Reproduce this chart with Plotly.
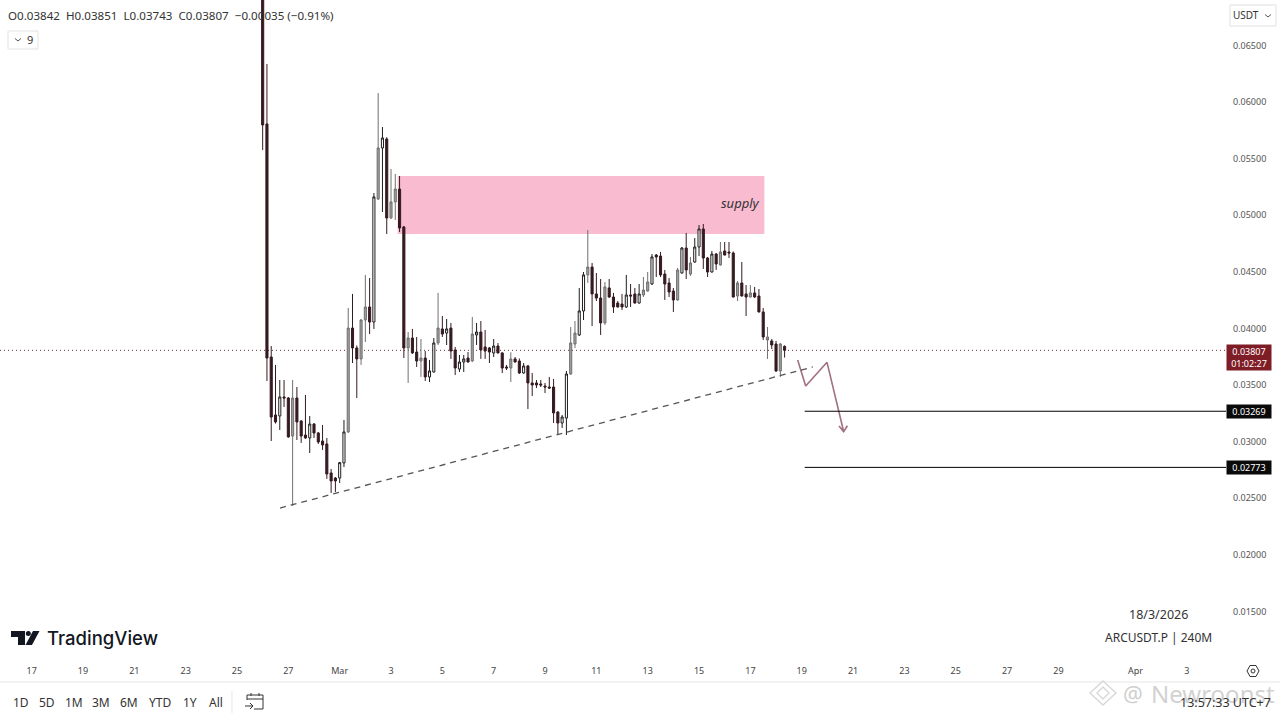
import pandas as pd
import plotly.graph_objects as go

# 4h candles, ARCUSDT.P, first bar 26 Feb 2026
bar_dates = pd.date_range("2026-02-26 00:00", periods=123, freq="4h")

opens = [0.07255, 0.05807, 0.03748, 0.03236, 0.03227, 0.03395, 0.03386, 0.03050, 0.03386, 0.03183,
         0.03059, 0.03033, 0.03156, 0.03077, 0.03006, 0.02980, 0.02724, 0.02679, 0.02679, 0.02812,
         0.03086, 0.04004, 0.03828, 0.03731, 0.04075, 0.04190, 0.04057, 0.05144, 0.05595, 0.05674,
         0.04976, 0.05118, 0.05232, 0.04897, 0.03828, 0.03916, 0.03792, 0.03713, 0.03739, 0.03572,
         0.03616, 0.03872, 0.03996, 0.03960, 0.04004, 0.03810, 0.03642, 0.03704, 0.03739, 0.03713,
         0.03943, 0.03969, 0.03837, 0.03828, 0.03784, 0.03845, 0.03784, 0.03660, 0.03651, 0.03731,
         0.03713, 0.03607, 0.03669, 0.03519, 0.03519, 0.03510, 0.03492, 0.03483, 0.03483, 0.03262,
         0.03165, 0.03209, 0.03598, 0.03863, 0.03943, 0.04155, 0.04473, 0.04543, 0.04305, 0.04269,
         0.04049, 0.04358, 0.04278, 0.04225, 0.04216, 0.04190, 0.04296, 0.04305, 0.04225, 0.04296,
         0.04331, 0.04393, 0.04649, 0.04640, 0.04481, 0.04402, 0.04331, 0.04252, 0.04490, 0.04711,
         0.04481, 0.04587, 0.04720, 0.04879, 0.04623, 0.04499, 0.04658, 0.04561, 0.04685, 0.04676,
         0.04667, 0.04287, 0.04402, 0.04305, 0.04278, 0.04314, 0.04287, 0.04146, 0.03925, 0.03890,
         0.03863, 0.03625, 0.03842]
highs = [0.07432, 0.06337, 0.03845, 0.03678, 0.03545, 0.03545, 0.03395, 0.03545, 0.03483, 0.03190,
         0.03413, 0.03227, 0.03165, 0.03086, 0.03148, 0.03033, 0.02759, 0.02688, 0.02821, 0.03192,
         0.04181, 0.04305, 0.03850, 0.04084, 0.04473, 0.04446, 0.05197, 0.06080, 0.05780, 0.05690,
         0.05409, 0.05365, 0.05347, 0.04906, 0.03969, 0.03996, 0.03925, 0.03907, 0.03801, 0.03722,
         0.03916, 0.04314, 0.04110, 0.04084, 0.04049, 0.03837, 0.03766, 0.03766, 0.03792, 0.04102,
         0.04049, 0.04066, 0.03987, 0.03837, 0.03907, 0.03872, 0.03790, 0.03678, 0.03790, 0.03748,
         0.03735, 0.03695, 0.03678, 0.03607, 0.03545, 0.03545, 0.03519, 0.03572, 0.03554, 0.03270,
         0.03236, 0.03625, 0.04013, 0.04066, 0.04358, 0.04499, 0.04870, 0.04579, 0.04490, 0.04437,
         0.04411, 0.04437, 0.04314, 0.04243, 0.04305, 0.04473, 0.04393, 0.04358, 0.04393, 0.04455,
         0.04499, 0.04658, 0.04658, 0.04676, 0.04517, 0.04446, 0.04358, 0.04535, 0.04720, 0.04844,
         0.04632, 0.04799, 0.04914, 0.04923, 0.04632, 0.04685, 0.04667, 0.04764, 0.04764, 0.04764,
         0.04680, 0.04420, 0.04587, 0.04384, 0.04384, 0.04367, 0.04349, 0.04181, 0.04013, 0.03907,
         0.03890, 0.03872, 0.03851]
lows = [0.05577, 0.03536, 0.03006, 0.03160, 0.03103, 0.03307, 0.03035, 0.02432, 0.03015, 0.02989,
        0.03025, 0.02900, 0.03033, 0.02980, 0.02927, 0.02671, 0.02547, 0.02556, 0.02635, 0.02776,
        0.03077, 0.03695, 0.03386, 0.03678, 0.03881, 0.03951, 0.03996, 0.05135, 0.05029, 0.04835,
        0.04970, 0.04959, 0.04853, 0.03739, 0.03519, 0.03775, 0.03660, 0.03572, 0.03536, 0.03527,
        0.03610, 0.03854, 0.03925, 0.03854, 0.03731, 0.03589, 0.03616, 0.03616, 0.03700, 0.03704,
        0.03854, 0.03731, 0.03731, 0.03695, 0.03748, 0.03780, 0.03607, 0.03633, 0.03527, 0.03700,
        0.03598, 0.03600, 0.03289, 0.03404, 0.03474, 0.03483, 0.03430, 0.03466, 0.03165, 0.03068,
        0.03121, 0.03059, 0.03590, 0.03828, 0.03934, 0.04075, 0.04402, 0.04022, 0.04243, 0.03943,
        0.04031, 0.04270, 0.04137, 0.04185, 0.04163, 0.04181, 0.04190, 0.04220, 0.04220, 0.04278,
        0.04325, 0.04384, 0.04455, 0.04455, 0.04252, 0.04278, 0.04146, 0.04245, 0.04485, 0.04437,
        0.04464, 0.04580, 0.04640, 0.04526, 0.04455, 0.04495, 0.04517, 0.04555, 0.04645, 0.04623,
        0.04275, 0.04243, 0.04283, 0.04110, 0.04275, 0.04269, 0.04142, 0.03898, 0.03731, 0.03819,
        0.03616, 0.03572, 0.03743]
closes = [0.05798, 0.03739, 0.03218, 0.03174, 0.03395, 0.03386, 0.03042, 0.03386, 0.03174, 0.03050,
          0.03033, 0.03156, 0.03077, 0.02997, 0.02971, 0.02715, 0.02653, 0.02653, 0.02815, 0.03086,
          0.04004, 0.03828, 0.03731, 0.04075, 0.04190, 0.04057, 0.05162, 0.05595, 0.05683, 0.04976,
          0.05118, 0.05232, 0.04888, 0.03828, 0.03916, 0.03784, 0.03713, 0.03739, 0.03572, 0.03625,
          0.03872, 0.04004, 0.03951, 0.03996, 0.03801, 0.03651, 0.03704, 0.03731, 0.03704, 0.03951,
          0.03969, 0.03810, 0.03801, 0.03792, 0.03845, 0.03784, 0.03651, 0.03651, 0.03731, 0.03704,
          0.03607, 0.03669, 0.03519, 0.03501, 0.03501, 0.03501, 0.03483, 0.03474, 0.03254, 0.03165,
          0.03218, 0.03598, 0.03872, 0.03960, 0.04155, 0.04473, 0.04543, 0.04305, 0.04269, 0.04049,
          0.04367, 0.04278, 0.04190, 0.04190, 0.04190, 0.04296, 0.04287, 0.04225, 0.04305, 0.04340,
          0.04411, 0.04632, 0.04632, 0.04473, 0.04393, 0.04322, 0.04252, 0.04517, 0.04711, 0.04517,
          0.04579, 0.04720, 0.04879, 0.04623, 0.04499, 0.04658, 0.04570, 0.04676, 0.04649, 0.04667,
          0.04278, 0.04402, 0.04287, 0.04278, 0.04314, 0.04278, 0.04146, 0.03925, 0.03898, 0.03854,
          0.03625, 0.03863, 0.03807]

# bars that come out washed out in the screenshot
grey_bars = [7, 20, 23, 24, 27, 30, 31, 34, 37, 41, 49, 58, 72, 73, 76, 80, 89, 90, 97, 100, 107, 111, 114, 118, 121]

price_ticks = [0.015, 0.02, 0.025, 0.03, 0.035, 0.04, 0.045, 0.05, 0.055, 0.06, 0.065]
date_ticks = ["2026-02-17", "2026-02-19", "2026-02-21", "2026-02-23", "2026-02-25", "2026-02-27",
              "2026-03-01", "2026-03-03", "2026-03-05", "2026-03-07", "2026-03-09", "2026-03-11",
              "2026-03-13", "2026-03-15", "2026-03-17", "2026-03-19", "2026-03-21", "2026-03-23",
              "2026-03-25", "2026-03-27", "2026-03-29", "2026-04-01", "2026-04-03"]
date_labels = ["17", "19", "21", "23", "25", "27", "Mar", "3", "5", "7", "9", "11", "13", "15",
               "17", "19", "21", "23", "25", "27", "29", "Apr", "3"]

last_price = 0.03807
target_1 = 0.03269
target_2 = 0.02773
supply_top = 0.05347
supply_bottom = 0.04835
supply_start = "2026-03-03 06:13"
supply_end = "2026-03-17 13:05"
trend_dates = ["2026-02-26 16:12", "2026-03-19 10:17"]
trend_prices = [0.02414, 0.03660]
level_start = "2026-03-19 02:48"
axis_start = "2026-02-15 18:24"
axis_end = "2026-04-04 12:43"
arrow_dates = ["2026-03-18 20:14", "2026-03-19 03:44", "2026-03-19 23:40", "2026-03-20 15:16",
               "2026-03-20 10:52", "2026-03-20 15:16", "2026-03-20 18:43"]
arrow_prices = [0.03722, 0.03492, 0.03701, 0.03088, 0.03139, 0.03088, 0.03141]
period_buttons = ["1D", "5D", "1M", "3M", "6M", "YTD", "1Y", "All"]
period_x = [21, 47, 74, 101, 128.5, 159.5, 189.5, 215.5]

W, H = 1280, 719
PLOT_W, PLOT_H = 1226, 657
UI_FONT = "Noto Sans"
UP, DOWN, GREY = "#1e1e1e", "#351a20", "#707070"


# overlay stuff is placed in screen pixels, same as the TradingView panels
def fx(px):
    return px / PLOT_W


def fy(py):
    return 1 - py / PLOT_H


def screen_text(fig, px, py, text, size=11, color="#333333", anchor="center", family=UI_FONT, **font):
    fig.add_annotation(x=fx(px), y=fy(py), xref="paper", yref="paper", text=text, showarrow=False,
                       xanchor=anchor, yanchor="middle", align=anchor, borderpad=0,
                       font=dict(family=family, size=size, color=color, **font))


def screen_path(fig, points, color="#333333", width=1.0, fill=None, close=False):
    path = "M" + " L".join(f"{fx(x):.5f},{fy(y):.5f}" for x, y in points) + (" Z" if close else "")
    fig.add_shape(type="path", path=path, xref="paper", yref="paper", layer="above",
                  line=dict(color=color, width=width), fillcolor=fill)


def price_tag(fig, price, text, color, height=13, py=None):
    fig.add_annotation(x=fx(1249), y=price if py is None else fy(py), xref="paper",
                       yref="y" if py is None else "paper", text=text, showarrow=False,
                       xanchor="center", yanchor="middle",
                       width=44, height=height, bgcolor=color, borderpad=0, align="center",
                       font=dict(family=UI_FONT, size=9, color="white"))


main_idx = [i for i in range(len(opens)) if i not in grey_bars]

fig = go.Figure()
fig.add_trace(go.Candlestick(
    x=[bar_dates[i] for i in main_idx],
    open=[opens[i] for i in main_idx],
    high=[highs[i] for i in main_idx],
    low=[lows[i] for i in main_idx],
    close=[closes[i] for i in main_idx],
    whiskerwidth=0,
    increasing=dict(line=dict(color=UP, width=1), fillcolor="white"),
    decreasing=dict(line=dict(color=DOWN, width=1), fillcolor=DOWN),
))
fig.add_trace(go.Candlestick(
    x=[bar_dates[i] for i in grey_bars],
    open=[opens[i] for i in grey_bars],
    high=[highs[i] for i in grey_bars],
    low=[lows[i] for i in grey_bars],
    close=[closes[i] for i in grey_bars],
    whiskerwidth=0,
    increasing=dict(line=dict(color=GREY, width=1), fillcolor="#a0a0a0"),
    decreasing=dict(line=dict(color=GREY, width=1), fillcolor="#a0a0a0"),
))
fig.add_trace(go.Scatter(x=arrow_dates, y=arrow_prices, mode="lines",
                         line=dict(color="#a2707f", width=1.6), hoverinfo="skip"))

fig.add_shape(type="rect", x0=supply_start, x1=supply_end, y0=supply_bottom, y1=supply_top,
              fillcolor="#f8bbd0", line_width=0, layer="below")
fig.add_shape(type="line", x0=trend_dates[0], x1=trend_dates[1], y0=trend_prices[0], y1=trend_prices[1],
              line=dict(color="#555555", width=1.3, dash="6px,5px"))
fig.add_shape(type="line", xref="paper", x0=0, x1=1, y0=last_price, y1=last_price,
              line=dict(color="#6e2a35", width=1, dash="1px,3px"), layer="below")
for level in [target_1, target_2]:
    fig.add_shape(type="line", x0=level_start, x1=axis_end, y0=level, y1=level,
                  line=dict(color="black", width=1))

fig.add_annotation(x="2026-03-16 15:00", y=0.05105, text="supply", showarrow=False,
                   font=dict(family=UI_FONT, size=13, color="#333333", style="italic"))

# price tags on the right scale
price_tag(fig, None, "0.03807<br>01:02:27", "#7f1d27", height=25, py=357)
price_tag(fig, target_1, "0.03269", "#0a0a0a")
price_tag(fig, target_2, "0.02773", "#0a0a0a")

# legend row
screen_text(fig, 7, 15.5, "O0.03842  H0.03851  L0.03743  C0.03807  \u22120.00035 (\u22120.91%)", size=11.6, anchor="left")
screen_path(fig, [(8, 31), (38, 31), (38, 49), (8, 49)], color="#e3e3e3", close=True)
screen_path(fig, [(15, 38.5), (18, 41), (21, 38.5)], color="#555555")
screen_text(fig, 30, 39.5, "9", size=11)

# USDT button
screen_path(fig, [(1230, 5), (1276, 5), (1276, 26), (1230, 26)], color="#e0e0e0", close=True)
screen_text(fig, 1246, 15.5, "USDT", size=10)
screen_path(fig, [(1265, 14.5), (1268, 17), (1271, 14.5)], color="#555555")

# TradingView logo
screen_path(fig, [(11, 631), (25, 631), (25, 645), (18, 645), (18, 637), (11, 637)], color="#131722",
            width=0, fill="#131722", close=True)
screen_path(fig, [(33, 631), (39.5, 631), (32, 645), (25.5, 645)], color="#131722", width=0, fill="#131722", close=True)
fig.add_shape(type="circle", xref="paper", yref="paper", x0=fx(25.8), x1=fx(30.8), y0=fy(636), y1=fy(631),
              fillcolor="#131722", line_width=0)
screen_text(fig, 46, 638, "TradingView", size=18.5, color="#131722", anchor="left", family="Inter", weight=500)

screen_text(fig, 1158, 614, "18/3/2026", size=12.5)
screen_text(fig, 1158, 637, "ARCUSDT.P | 240M", size=12)

# bottom toolbar
screen_path(fig, [(0, 682), (W, 682)], color="#e6e6e6")
for label, px in zip(period_buttons, period_x):
    screen_text(fig, px, 702, label, size=12, color="#333333")
screen_path(fig, [(232, 691), (232, 713)], color="#e6e6e6")
screen_path(fig, [(247, 700), (247, 695), (263, 695), (263, 709), (254, 709)], color="#333333")
screen_path(fig, [(247, 699), (263, 699)], color="#333333")
screen_path(fig, [(251, 693), (251, 696)], color="#333333")
screen_path(fig, [(259, 693), (259, 696)], color="#333333")
screen_path(fig, [(245, 706), (253, 706)], color="#333333")
screen_path(fig, [(250, 703), (253, 706), (250, 709)], color="#333333")

# settings icon
screen_path(fig, [(1247, 671), (1250, 665.5), (1256, 665.5), (1259, 671), (1256, 676.5), (1250, 676.5)],
            color="#333333", close=True)
fig.add_shape(type="circle", xref="paper", yref="paper", x0=fx(1251), x1=fx(1255), y0=fy(673), y1=fy(669),
              line=dict(color="#333333", width=1))

# watermark + clock
screen_path(fig, [(1103, 681), (1116, 693), (1103, 705), (1090, 693)], color="#d8d8d8", width=1.4, close=True)
screen_path(fig, [(1103, 687), (1109, 693), (1103, 699), (1097, 693)], color="#d8d8d8", width=1.4, close=True)
screen_text(fig, 1133, 693, "@", size=22, color="#cfcfcf")
screen_text(fig, 1150, 693, "Newroonst", size=24, color="#d2d2d2", anchor="left")
screen_text(fig, 1272, 702, "13:57:33 UTC+7", size=12.5, color="#333333", anchor="right")

fig.update_layout(
    width=W, height=H,
    margin=dict(l=0, r=W - PLOT_W, t=0, b=H - PLOT_H, pad=0),
    paper_bgcolor="white", plot_bgcolor="white",
    showlegend=False,
    hovermode=False,
    font=dict(family=UI_FONT, color="#333333"),
)
fig.update_xaxes(
    type="date",
    range=[axis_start, axis_end],
    rangeslider_visible=False,
    tickmode="array", tickvals=date_ticks, ticktext=date_labels,
    tickfont=dict(size=9, color="#444444"),
    ticks="", showgrid=False, zeroline=False, showline=False,
    ticklabelstandoff=7,
)
fig.update_yaxes(
    side="right",
    range=[0.010979, 0.069019],
    tickmode="array", tickvals=price_ticks, tickformat=".5f",
    tickfont=dict(size=9, color="#555555"),
    ticks="", showgrid=False, zeroline=False, showline=False,
    ticklabelstandoff=6,
)

fig.write_html("out.html", config={"displayModeBar": False},
               post_script="document.body.style.margin='0';")
